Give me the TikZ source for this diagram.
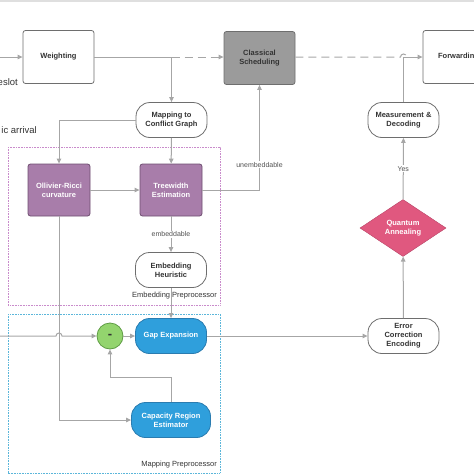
\documentclass[tikz,border=0pt]{standalone}
\usepackage{fontspec}
\setmainfont{Liberation Sans}
\usetikzlibrary{arrows.meta,shapes.geometric}
\definecolor{linegray}{HTML}{A6A6A6}
\definecolor{edgegray}{HTML}{6E6E6E}
\definecolor{txtgray}{HTML}{333333}
\definecolor{schedgray}{HTML}{9B9B9B}
\definecolor{purplefill}{HTML}{A87DAA}
\definecolor{purpleedge}{HTML}{6E4D70}
\definecolor{bluefill}{HTML}{2F9FDC}
\definecolor{blueedge}{HTML}{2A7CB0}
\definecolor{pinkfill}{HTML}{E0587F}
\definecolor{pinkedge}{HTML}{B84466}
\definecolor{greenfill}{HTML}{93D46E}
\definecolor{greenedge}{HTML}{5E9C44}
\definecolor{pinkframe}{HTML}{C98BCB}
\definecolor{blueframe}{HTML}{5BB6DA}
\begin{document}
\begin{tikzpicture}[x=1pt, y=-1pt,
    font=\fontsize{7.5}{8.8}\selectfont\bfseries,
    >={Triangle[width=4.5pt,length=5pt]},
    plainbox/.style={draw=edgegray, line width=0.8pt, rounded corners=2.5pt, fill=white, text=txtgray, minimum width=71pt, minimum height=53pt, align=center},
    graybox/.style={plainbox, fill=schedgray},
    purplebox/.style={plainbox, draw=purpleedge, fill=purplefill, text=white, minimum width=62pt, minimum height=52pt},
    pill/.style={draw=edgegray, line width=0.8pt, rounded corners=14pt, fill=white, text=txtgray, minimum width=71pt, minimum height=35pt, inner sep=1pt, align=center},
    bluepill/.style={pill, draw=blueedge, fill=bluefill, text=white},
    qdiamond/.style={diamond, draw=pinkedge, fill=pinkfill, text=white, minimum width=86pt, minimum height=57pt, inner sep=0pt, align=center},
    minus/.style={circle, draw=greenedge, fill=greenfill, text=txtgray, line width=0.8pt, minimum size=26pt, inner sep=0pt, font=\fontsize{13}{13}\selectfont\bfseries},
    conn/.style={draw=linegray, line width=1pt, ->},
    wire/.style={draw=linegray, line width=1pt},
    lbl/.style={font=\fontsize{7}{8}\selectfont, text=txtgray!85, fill=white, inner sep=1pt},
    framelbl/.style={font=\fontsize{7.5}{8.5}\selectfont, text=txtgray, anchor=east, inner sep=1pt},
    side/.style={font=\fontsize{9.5}{11}\selectfont, text=txtgray, anchor=east, inner sep=0pt}]
    \useasboundingbox (0,0) rectangle (474,474);
    \clip (0,0) rectangle (474,474);
    \fill[gray!25] (0,0) rectangle (474,2);

    % frames of the two preprocessors
    \draw[pinkframe, line width=1pt, dash pattern=on 0.8pt off 0.8pt] (8,147) rectangle (220,305);
    \node[framelbl] (EPL) at (218,296) {Embedding Preprocessor};
    \draw[blueframe, line width=1pt, dash pattern=on 0.8pt off 0.8pt] (8,314) rectangle (220,473);
    \node[framelbl] (MPL) at (218,465) {Mapping Preprocessor};

    \node[side] (TS) at (18,82) {eslot};
    \node[side] (AR) at (37,130) {ic arrival};

    \node[plainbox] (W) at (58.5,57) {Weighting};
    \node[graybox] (CS) at (259.5,58) {Classical\\Scheduling};
    \node[plainbox] (F) at (458.5,57) {Forwarding};
    \node[pill] (MC) at (171.5,120) {Mapping to\\Conflict Graph};
    \node[pill] (MD) at (403.5,120) {Measurement \&\\Decoding};
    \node[purplebox] (OR) at (59,190) {Ollivier-Ricci\\curvature};
    \node[purplebox] (TE) at (171,190) {Treewidth\\Estimation};
    \node[qdiamond] (QA) at (403,228) {Quantum\\Annealing};
    \node[pill] (EH) at (171,270) {Embedding\\Heuristic};
    \node[minus] (M) at (110,336) {-};
    \node[bluepill] (GE) at (171,336) {Gap Expansion};
    \node[pill] (EC) at (403.5,336) {Error\\Correction\\Encoding};
    \node[bluepill, minimum width=79pt] (CR) at (171,420) {Capacity Region\\Estimator};

    \coordinate (inA) at (0,57);
    \coordinate (inB) at (0,336);
    \coordinate (split) at (MC.north |- W.east);
    \coordinate (hopA) at (MD.north |- F.west);
    \coordinate (hopB) at (OR.south |- M.west);

    \draw[conn] (inA) -- (W);
    \draw[wire] (W) -- (split);
    \draw[conn, dash pattern=on 8pt off 5pt] (split) -- (CS.west |- split);
    \draw[conn] (split) -- (MC);
    \draw[wire, dash pattern=on 8pt off 5pt] (CS.east |- hopA) -- ([xshift=-3pt]hopA) arc (180:0:3pt);
    \draw[conn] (MD) |- (F);
    \draw[conn] (QA) -- node[lbl] {Yes} (MD);
    \draw[conn] (EC) -- (QA);

    \draw[conn] (MC) -| (OR);
    \draw[conn] (MC) -- (TE);
    \draw[conn] (OR) -- (TE);
    \draw[conn] (TE) -- node[lbl] {embeddable} (EH);
    \draw[conn] (TE) -| node[lbl, pos=0.62] {unembeddable} (CS);
    \draw[conn] (EH) -- (GE);

    \draw[conn] (inB) -- ([xshift=-3pt]hopB) arc (180:0:3pt) -- (M);
    \draw[conn] (M) -- (GE);
    \draw[conn] (GE) -- (EC);
    \draw[conn] (CR.north) -- ++(0,-25) -| (M.south);
    \draw[conn] (OR) |- (CR);
\end{tikzpicture}
\end{document}
